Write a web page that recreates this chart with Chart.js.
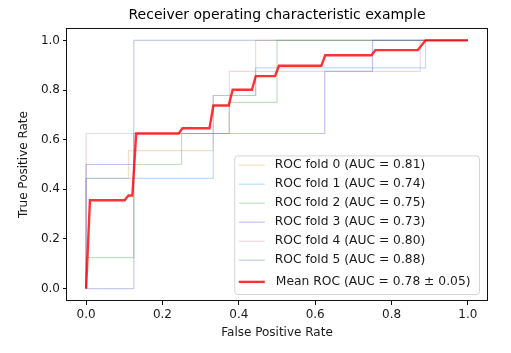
<!DOCTYPE html>
<html>
<head>
<meta charset="utf-8">
<script src="https://cdn.jsdelivr.net/npm/chart.js@4.4.0/dist/chart.umd.min.js"></script>
<style>
  html, body { margin: 0; padding: 0; background: #fff; }
  #wrap { width: 511px; height: 353px; }
</style>
</head>
<body>
<div id="wrap"><canvas id="rocChart" width="511" height="353"></canvas></div>
<script>
const xTicks = [0, 0.2, 0.4, 0.6, 0.8, 1.0]
const yTicks = [0, 0.2, 0.4, 0.6, 0.8, 1.0]

// step curves of each CV fold
const fpr0 = [0, 0, 0.111, 0.111, 0.333, 0.333, 0.444, 0.444, 1]
const tpr0 = [0, 0.444, 0.444, 0.556, 0.556, 0.778, 0.778, 1, 1]
const fpr1 = [0, 0, 0.333, 0.333, 0.444, 0.444, 0.889, 0.889, 1]
const tpr1 = [0, 0.444, 0.444, 0.778, 0.778, 0.889, 0.889, 1, 1]
const fpr2 = [0, 0, 0.125, 0.125, 0.25, 0.25, 0.375, 0.375, 0.5, 0.5, 1]
const tpr2 = [0, 0.125, 0.125, 0.5, 0.5, 0.625, 0.625, 0.75, 0.75, 1, 1]
const fpr3 = [0, 0, 0.125, 0.125, 0.625, 0.625, 0.75, 0.75, 1]
const tpr3 = [0, 0.5, 0.5, 0.625, 0.625, 0.875, 0.875, 1, 1]
const fpr4 = [0, 0, 0.375, 0.375, 0.875, 0.875, 1]
const tpr4 = [0, 0.625, 0.625, 0.875, 0.875, 1, 1]
const fpr5 = [0, 0.125, 0.125, 1]
const tpr5 = [0, 0, 1, 1]

// mean ROC corners
const meanFpr = [0, 0.0101, 0.101, 0.111, 0.1212, 0.1313, 0.2424, 0.2525, 0.3232, 0.3333, 0.3737, 0.3838,
  0.4343, 0.4444, 0.4949, 0.5051, 0.6162, 0.6263, 0.7475, 0.7576, 0.8687, 0.8788, 0.8889, 1]
const meanTpr = [0, 0.356, 0.356, 0.375, 0.375, 0.625, 0.625, 0.646, 0.646, 0.738, 0.738, 0.801,
  0.801, 0.856, 0.856, 0.898, 0.898, 0.940, 0.940, 0.961, 0.961, 0.981, 1, 1]

const foldAuc = [0.81, 0.74, 0.75, 0.73, 0.80, 0.88]
const meanAuc = 0.78
const stdAuc = 0.05

const foldFpr = [fpr0, fpr1, fpr2, fpr3, fpr4, fpr5]
const foldTpr = [tpr0, tpr1, tpr2, tpr3, tpr4, tpr5]
const foldColors = [
  'rgba(215, 150, 70, 0.3)',
  'rgba(30, 144, 255, 0.3)',
  'rgba(40, 160, 40, 0.3)',
  'rgba(50, 50, 220, 0.3)',
  'rgba(205, 120, 150, 0.3)',
  'rgba(70, 90, 160, 0.3)'
]

const FONT = '"DejaVu Sans", sans-serif'
const toPoints = (xs, ys) => xs.map((x, i) => ({ x: x, y: ys[i] }))

const datasets = foldFpr.map((xs, i) => ({
  label: `ROC fold ${i} (AUC = ${foldAuc[i].toFixed(2)})`,
  data: toPoints(xs, foldTpr[i]),
  borderColor: foldColors[i],
  borderWidth: 1.2,
  order: 10 - i
}))
datasets.push({
  label: `Mean ROC (AUC = ${meanAuc.toFixed(2)} \u00b1 ${stdAuc.toFixed(2)})`,
  data: toPoints(meanFpr, meanTpr),
  borderColor: 'rgba(255, 0, 0, 0.8)',
  borderWidth: 2.4,
  order: 0
})

// matplotlib style legend box in the lower right corner
const boxLegend = {
  id: 'boxLegend',
  afterDatasetsDraw(chart) {
    const { ctx, chartArea } = chart
    const items = chart.data.datasets
    ctx.save()
    ctx.font = '12.3px ' + FONT
    const textW = Math.max(...items.map(d => ctx.measureText(d.label).width))
    const rowH = 19
    const w = 41 + textW + 9
    const h = 9.3 + rowH * (items.length - 2) + 21.7 + 12.6
    const right = chartArea.right - 7.5
    const bottom = chartArea.bottom - 6.5
    const left = right - w
    const top = bottom - h
    ctx.beginPath()
    ctx.roundRect(left, top, w, h, 3)
    ctx.fillStyle = 'rgba(255, 255, 255, 0.8)'
    ctx.fill()
    ctx.strokeStyle = '#d4d4d4'
    ctx.lineWidth = 1
    ctx.stroke()
    items.forEach((d, i) => {
      let y = top + 9.3 + i * rowH
      if (i === items.length - 1) y += 2.7
      ctx.beginPath()
      ctx.moveTo(left + 4, y)
      ctx.lineTo(left + 30, y)
      ctx.strokeStyle = d.borderColor
      ctx.lineWidth = d.borderWidth
      ctx.stroke()
      ctx.fillStyle = '#1a1a1a'
      ctx.textBaseline = 'middle'
      ctx.fillText(d.label, left + (i === items.length - 1 ? 41 : 40), y)
    })
    ctx.restore()
  }
}

// full box frame around the axes
const frame = {
  id: 'frame',
  afterDraw(chart) {
    const { ctx, chartArea: a } = chart
    ctx.save()
    ctx.strokeStyle = '#111'
    ctx.lineWidth = 1
    ctx.strokeRect(Math.round(a.left) - 0.5, Math.round(a.top) + 0.5,
      Math.round(a.right - a.left) + 1, Math.round(a.bottom - a.top) - 1)
    ctx.restore()
  }
}

const tickStyle = { font: { family: FONT, size: 12 }, color: '#1a1a1a', padding: 3 }
const gridStyle = { drawOnChartArea: false, drawTicks: true, tickLength: 4, color: '#111', lineWidth: 1 }

new Chart(document.getElementById('rocChart'), {
  type: 'scatter',
  data: { datasets: datasets },
  options: {
    responsive: false,
    animation: false,
    devicePixelRatio: 1,
    showLine: true,
    elements: {
      point: { radius: 0, hoverRadius: 0 },
      line: { tension: 0, fill: false }
    },
    layout: { padding: { left: 8, right: 24, top: 0, bottom: 5 } },
    plugins: {
      legend: { display: false },
      tooltip: { enabled: false },
      title: {
        display: true,
        fullSize: false,
        text: 'Receiver operating characteristic example',
        color: '#000',
        font: { family: FONT, size: 14, weight: 'normal' },
        padding: { top: 6.6, bottom: 4.6 }
      }
    },
    scales: {
      x: {
        type: 'linear',
        min: -0.05,
        max: 1.05,
        afterBuildTicks: axis => { axis.ticks = xTicks.map(v => ({ value: v })) },
        afterFit: axis => { axis.height = 47 },
        ticks: { ...tickStyle, callback: v => v.toFixed(1), maxRotation: 0 },
        grid: gridStyle,
        border: { display: false },
        title: {
          display: true,
          text: 'False Positive Rate',
          color: '#1a1a1a',
          font: { family: FONT, size: 12 },
          padding: { top: 0, bottom: 8 }
        }
      },
      y: {
        type: 'linear',
        min: -0.05,
        max: 1.05,
        afterBuildTicks: axis => { axis.ticks = yTicks.map(v => ({ value: v })) },
        afterFit: axis => { axis.width = 59 },
        ticks: { ...tickStyle, callback: v => v.toFixed(1) },
        grid: gridStyle,
        border: { display: false },
        title: {
          display: true,
          text: 'True Positive Rate',
          color: '#1a1a1a',
          font: { family: FONT, size: 12 },
          padding: { top: 9, bottom: 0 }
        }
      }
    }
  },
  plugins: [boxLegend, frame]
})
</script>
</body>
</html>
